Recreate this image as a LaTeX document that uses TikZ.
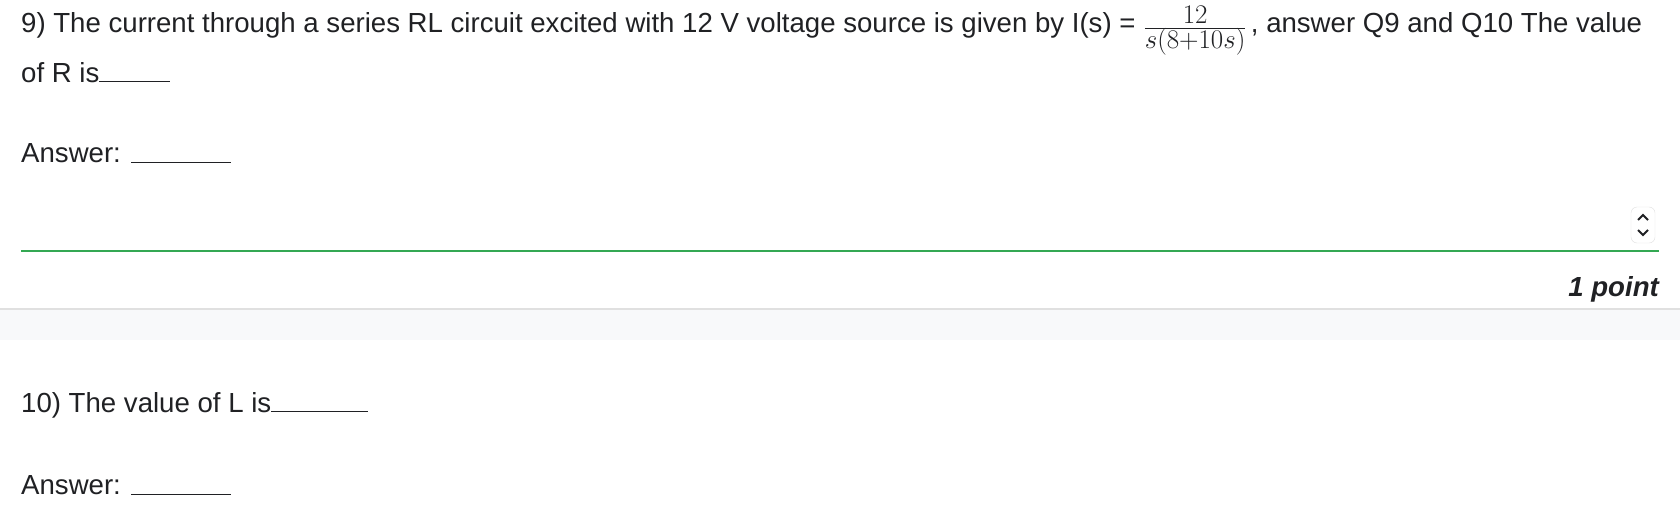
\documentclass[tikz,border=0pt]{standalone}
\usepackage{fontspec}
\usepackage{graphicx}
\setmainfont{Liberation Sans}
\definecolor{txt}{HTML}{202124}
\definecolor{grn}{HTML}{34A853}
\definecolor{band}{HTML}{F8F9FA}
\definecolor{sep}{HTML}{E0E0E0}
\begin{document}
\begin{tikzpicture}[x=1pt,y=-1pt,
  t/.style={anchor=base west,inner sep=0pt,text=txt,font=\fontsize{27.6}{32}\selectfont}]
\useasboundingbox[fill=white] (0,0) rectangle (1680,528);
\fill[band] (0,310) rectangle (1680,340);
\draw[sep,line width=1.5pt] (0,309) -- (1680,309);
\node[t] (l1) at (21,32) {9) The current through a series RL circuit excited with 12 V voltage source is given by I(s) = \raisebox{-4pt}{\scalebox{1.3}{$\frac{12}{s(8+10s)}$}}\hspace{4pt}, answer Q9 and Q10 The value};
\node[t] (l2) at (21,82) {of R is\rule{71pt}{1.2pt}};
\node[t] (a1) at (21,162) {Answer: \rule[-1pt]{100pt}{1.2pt}};
\draw[grn,line width=1.4pt] (21,251) -- (1659,251);
\node[draw=sep,rounded corners=6pt,minimum width=24pt,minimum height=36pt,inner sep=0pt] (spin) at (1643,225) {};
\draw[txt,line width=2pt] ([shift={(-5,-5)}]spin.center) -- ([shift={(0,-10)}]spin.center) -- ([shift={(5,-5)}]spin.center);
\draw[txt,line width=2pt] ([shift={(-5,5)}]spin.center) -- ([shift={(0,10)}]spin.center) -- ([shift={(5,5)}]spin.center);
\node[t,anchor=base east,font=\fontsize{27.6}{32}\selectfont\bfseries\itshape] (pt) at (1659,296) {1 point};
\node[t] (l3) at (21,412) {10) The value of L is\rule{97pt}{1.2pt}};
\node[t] (a2) at (21,494) {Answer: \rule[-1pt]{100pt}{1.2pt}};
\end{tikzpicture}
\end{document}
